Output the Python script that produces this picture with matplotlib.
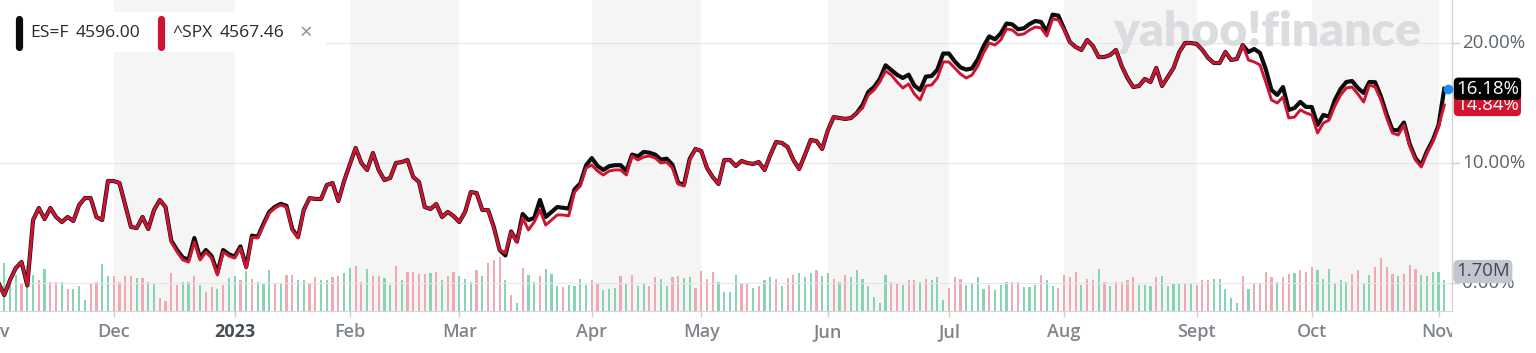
import numpy as np
import pandas as pd
import matplotlib
matplotlib.use('Agg')
import matplotlib.pyplot as plt
from matplotlib.patches import Rectangle
from matplotlib.lines import Line2D

plt.rcParams['font.family'] = ['Open Sans', 'DejaVu Sans']

# NYSE closed days inside the window
holidays = ['2022-11-24', '2022-12-26', '2023-01-02', '2023-01-16', '2023-02-20',
            '2023-04-07', '2023-05-29', '2023-06-19', '2023-07-04', '2023-09-04']

# % change since 2 Nov 2022, one value per trading day
spx_pct = [
    0.00, -1.00, 0.25, 1.25, 1.75, -0.20, 5.25, 6.25, 5.33, 6.25,
    5.50, 5.08, 5.50, 5.17, 6.50, 7.08, 7.08, 5.50, 5.25, 8.50,
    8.50, 8.33, 6.50, 4.67, 4.58, 5.50, 4.50, 6.08, 6.92, 6.33,
    3.42, 2.60, 1.92, 1.75, 3.42, 1.92, 2.58, 2.08, 0.67, 2.58,
    2.25, 2.08, 2.92, 1.25, 3.83, 3.75, 4.83, 5.83, 6.25, 6.50,
    6.33, 4.42, 3.75, 6.10, 7.08, 7.00, 7.00, 8.17, 8.33, 6.83,
    8.50, 9.90, 11.25, 10.00, 9.42, 10.83, 9.42, 8.58, 8.75, 10.00,
    10.08, 10.25, 8.83, 8.42, 6.33, 6.17, 6.58, 5.50, 5.92, 5.58,
    5.08, 5.92, 7.58, 7.50, 6.08, 6.08, 4.58, 2.75, 2.50, 4.25,
    3.42, 5.42, 4.42, 5.08, 6.08, 4.83, 5.25, 5.67, 5.67, 5.60,
    7.58, 8.08, 9.58, 9.83, 9.33, 9.00, 9.33, 9.42, 9.42, 9.00,
    10.58, 10.25, 10.50, 10.58, 10.42, 10.00, 10.08, 9.58, 8.25, 8.08,
    10.25, 11.17, 11.00, 9.58, 8.83, 8.25, 10.25, 10.25, 9.75, 10.17,
    10.00, 9.92, 10.08, 9.42, 10.67, 11.75, 11.67, 11.33, 10.25, 9.50,
    10.67, 11.92, 11.83, 11.17, 12.75, 13.83, 13.75, 13.67, 13.75, 14.17,
    14.58, 15.67, 16.08, 16.75, 17.67, 17.33, 16.75, 16.25, 16.58, 15.75,
    15.25, 16.42, 16.50, 17.08, 18.42, 18.42, 17.92, 17.42, 17.08, 17.33,
    18.08, 19.17, 20.00, 19.83, 20.25, 21.17, 21.08, 20.67, 20.75, 21.08,
    21.33, 21.25, 20.58, 22.00, 21.92, 21.08, 20.08, 19.67, 19.42, 20.25,
    19.75, 18.83, 18.83, 19.00, 19.42, 18.08, 17.08, 16.33, 16.42, 17.00,
    16.75, 17.92, 16.42, 17.17, 17.92, 19.25, 20.00, 20.00, 19.92, 19.42,
    18.75, 18.33, 18.33, 19.25, 18.58, 18.67, 19.83, 18.58, 18.42, 18.17,
    16.75, 15.25, 15.00, 15.50, 13.75, 13.83, 14.42, 14.17, 14.00, 12.50,
    13.33, 13.58, 14.75, 15.67, 16.25, 16.33, 15.75, 15.08, 16.50, 16.33,
    15.25, 13.75, 12.50, 12.33, 13.17, 11.42, 10.25, 9.67, 10.83, 11.75,
    13.00, 14.84,
]

es_pct = [
    0.00, -1.00, 0.25, 1.25, 1.75, -0.20, 5.25, 6.25, 5.33, 6.25,
    5.50, 5.08, 5.50, 5.17, 6.50, 7.08, 7.08, 5.50, 5.25, 8.50,
    8.50, 8.33, 6.50, 4.67, 4.58, 5.50, 4.50, 6.08, 6.92, 6.33,
    3.52, 2.75, 2.12, 1.95, 3.75, 2.10, 2.75, 2.25, 0.85, 2.75,
    2.40, 2.20, 3.05, 1.35, 3.95, 3.85, 4.93, 5.93, 6.35, 6.60,
    6.43, 4.50, 3.83, 6.10, 7.08, 7.00, 7.00, 8.17, 8.33, 6.83,
    8.50, 9.90, 11.25, 10.00, 9.42, 10.83, 9.42, 8.58, 8.75, 10.00,
    10.08, 10.25, 8.83, 8.42, 6.33, 6.17, 6.58, 5.50, 5.92, 5.58,
    5.08, 5.92, 7.58, 7.50, 6.08, 6.08, 4.65, 2.75, 2.30, 4.30,
    3.45, 5.75, 5.25, 5.42, 6.92, 5.50, 5.92, 6.33, 6.27, 6.20,
    7.80, 8.30, 9.80, 10.41, 9.75, 9.42, 9.73, 9.82, 9.82, 9.35,
    10.70, 10.55, 10.92, 10.86, 10.70, 10.28, 10.36, 9.86, 8.35, 8.18,
    10.35, 11.17, 11.00, 9.58, 8.83, 8.25, 10.25, 10.25, 9.75, 10.17,
    10.00, 9.92, 10.08, 9.42, 10.67, 11.75, 11.67, 11.33, 10.25, 9.50,
    10.67, 11.92, 11.83, 11.17, 12.75, 13.83, 13.75, 13.67, 13.75, 14.17,
    14.83, 15.92, 16.33, 17.00, 18.14, 17.75, 17.35, 17.08, 17.36, 16.45,
    16.08, 17.20, 17.25, 17.78, 19.12, 19.12, 18.47, 17.97, 17.78, 17.88,
    18.63, 19.72, 20.55, 20.30, 20.80, 21.62, 21.55, 21.14, 21.22, 21.58,
    21.83, 21.75, 20.94, 22.36, 22.28, 21.18, 20.08, 19.67, 19.42, 20.25,
    19.75, 18.83, 18.83, 19.00, 19.42, 18.08, 17.08, 16.33, 16.42, 17.00,
    16.75, 17.92, 16.42, 17.17, 17.92, 19.25, 20.00, 20.00, 19.92, 19.42,
    18.75, 18.33, 18.33, 19.25, 18.58, 18.67, 19.83, 19.25, 19.50, 19.17,
    17.83, 16.08, 15.67, 16.33, 14.42, 14.58, 15.09, 14.67, 14.67, 13.17,
    14.00, 13.86, 15.25, 16.17, 16.75, 16.83, 16.25, 15.83, 16.75, 16.73,
    15.55, 14.05, 12.75, 12.73, 13.37, 11.57, 10.40, 9.82, 10.98, 11.90,
    13.15, 16.18,
]

# volume in millions, and whether the bar is an up day
volume_m = [
    0.97, 2.62, 1.52, 1.98, 1.52, 2.53, 1.98, 1.67, 2.31, 1.61,
    1.61, 1.58, 1.21, 1.21, 1.34, 0.61, 1.52, 1.61, 2.59, 1.93,
    1.93, 1.61, 1.89, 1.89, 1.80, 1.80, 1.61, 1.52, 0.70, 0.57,
    2.07, 1.43, 1.61, 1.61, 1.93, 1.43, 1.06, 1.30, 1.19, 1.43,
    1.80, 1.89, 1.71, 2.16, 1.74, 1.61, 1.52, 2.22, 1.52, 1.52,
    1.98, 1.98, 1.67, 1.67, 1.52, 1.85, 1.67, 1.67, 1.85, 1.93,
    2.07, 2.35, 2.48, 1.61, 2.31, 1.93, 1.89, 1.80, 1.43, 2.48,
    1.67, 2.11, 2.11, 2.04, 2.04, 2.07, 2.11, 1.67, 1.93, 2.11,
    1.93, 1.74, 1.61, 2.22, 1.93, 2.62, 2.81, 2.95, 1.71, 0.88,
    0.46, 2.35, 1.98, 1.61, 1.93, 2.31, 2.02, 1.37, 1.30, 1.43,
    1.37, 1.74, 1.43, 1.67, 1.52, 1.15, 1.19, 1.25, 1.93, 1.52,
    1.98, 1.37, 1.52, 1.37, 1.85, 1.74, 1.37, 1.85, 1.93, 1.80,
    1.85, 1.25, 2.16, 1.74, 2.11, 1.61, 1.06, 1.06, 1.98, 1.52,
    1.52, 1.25, 1.37, 1.67, 1.85, 1.74, 1.37, 1.80, 1.98, 2.07,
    1.85, 2.07, 2.22, 1.93, 2.07, 1.74, 1.61, 1.98, 1.85, 2.22,
    1.74, 1.37, 0.79, 0.46, 1.98, 1.61, 1.52, 1.43, 1.67, 1.67,
    1.61, 1.74, 1.67, 1.85, 0.61, 1.25, 1.85, 1.74, 1.43, 1.52,
    1.85, 1.19, 1.43, 1.15, 1.43, 1.61, 1.61, 1.58, 1.30, 1.30,
    1.43, 1.98, 1.67, 1.34, 1.25, 1.98, 1.85, 2.11, 1.43, 1.74,
    1.67, 2.29, 1.61, 1.37, 1.61, 1.61, 1.67, 1.85, 1.43, 1.43,
    1.37, 1.85, 1.93, 1.37, 1.52, 1.48, 1.48, 1.52, 1.43, 1.67,
    1.67, 1.74, 1.74, 1.19, 0.70, 0.46, 1.93, 1.19, 1.52, 1.52,
    2.11, 1.85, 1.61, 1.85, 2.04, 2.07, 2.22, 2.11, 2.40, 2.22,
    1.74, 2.29, 1.52, 1.67, 1.61, 2.04, 2.22, 1.52, 1.98, 2.40,
    2.90, 2.40, 2.04, 1.93, 2.04, 2.53, 2.29, 1.98, 1.93, 2.11,
    2.11, 1.70,
]

volume_up = [
    1, 1, 1, 1, 0, 1, 1, 0, 1, 0,
    0, 1, 0, 1, 1, 1, 0, 0, 1, 1,
    0, 0, 0, 0, 1, 0, 1, 1, 0, 0,
    0, 0, 1, 1, 0, 1, 0, 0, 1, 0,
    1, 1, 0, 1, 0, 1, 1, 1, 0, 1,
    0, 0, 1, 1, 0, 0, 1, 1, 0, 0,
    1, 1, 0, 0, 1, 0, 0, 1, 1, 0,
    1, 0, 0, 0, 0, 1, 0, 1, 0, 0,
    1, 1, 1, 0, 1, 0, 0, 0, 1, 0,
    1, 0, 1, 1, 0, 1, 1, 1, 0, 1,
    1, 1, 1, 0, 0, 1, 1, 1, 0, 1,
    0, 1, 1, 0, 0, 1, 1, 0, 0, 1,
    1, 0, 0, 0, 0, 1, 1, 1, 1, 0,
    0, 1, 0, 1, 1, 0, 1, 0, 0, 1,
    1, 1, 0, 1, 1, 0, 1, 0, 1, 1,
    1, 1, 1, 1, 1, 0, 0, 1, 0, 0,
    1, 0, 1, 1, 1, 0, 0, 0, 1, 1,
    1, 1, 0, 1, 1, 1, 0, 0, 1, 1,
    1, 0, 1, 1, 0, 0, 0, 0, 1, 0,
    0, 1, 0, 1, 0, 0, 0, 0, 1, 1,
    1, 0, 1, 1, 1, 1, 0, 1, 0, 0,
    0, 1, 1, 1, 1, 1, 0, 1, 0, 0,
    0, 0, 1, 0, 0, 1, 0, 0, 0, 1,
    1, 1, 1, 1, 1, 0, 0, 1, 1, 0,
    0, 0, 0, 1, 0, 0, 0, 1, 1, 1,
    1, 1,
]

legend_names = ['ES=F', '^SPX']
legend_prices = ['4596.00', '4567.46']
pct_ticks = [0, 10, 20]

# trading-day axis; 1 Nov 2022 is position -1 so that the first month tick exists
days = pd.bdate_range('2022-11-01', '2023-11-02')
days = days[~days.isin(pd.to_datetime(holidays))]
pos_all = np.arange(len(days)) - 1
x = pos_all[1:]
firsts = pd.Series(pos_all, index=days).groupby([days.year, days.month]).first()
month_pos = list(firsts.values)
month_lab = []
for (yr, mo) in firsts.index:
    if mo == 1:
        month_lab.append(str(yr))
    elif mo == 9:
        month_lab.append('Sept')
    else:
        month_lab.append(pd.Timestamp(yr, mo, 1).strftime('%b'))

W, H = 1536, 353
def fx(px): return px / W
def fy(py): return 1 - py / H

fig = plt.figure(figsize=(W / 100, H / 100), dpi=100)
fig.patch.set_facecolor('white')

rect = [0, fy(311), fx(1452), 311 / H]
xlim = (0.26, 252.34)

# volume + month bands (bottom layer)
axv = fig.add_axes(rect)
axv.set_xlim(*xlim)
axv.set_ylim(0, 17.0)
axv.set_axis_off()
for k in range(len(month_pos) - 1):
    if k % 2 == 1:
        axv.axvspan(month_pos[k], month_pos[k + 1], color='#f5f5f5', lw=0, zorder=0)
bar_cols = ['#86d4b4' if u else '#f1a9b1' for u in volume_up]
axv.bar(x, volume_m, width=0.38, color=bar_cols, lw=0, zorder=2)
axv.axhline(0, color='#d6d6d6', lw=0.8, clip_on=False, zorder=3)

# price lines (top layer)
ax = fig.add_axes(rect, sharex=axv)
ax.set_zorder(axv.get_zorder() + 1)
ax.patch.set_visible(False)
ax.set_xlim(*xlim)
ax.set_ylim(-2.33, 23.58)
ax.set_axis_off()
for t in pct_ticks:
    ax.axhline(t, color='#e6e6e6', lw=0.8, zorder=1)
ax.plot(x, es_pct, color='#0c0c0c', lw=3.0, solid_joinstyle='round', zorder=3)
ax.plot(x, spx_pct, color='#cc1533', lw=2.1, solid_joinstyle='round', zorder=4)
ax.plot(x[-1] + 0.6, es_pct[-1], 'o', ms=7, color='#1a8cff', mec='none', clip_on=False, zorder=6)

# right axis line, ticks and labels
ax.axvline(xlim[1], color='#d6d6d6', lw=1.0, clip_on=False, zorder=2)
ytr = ax.get_yaxis_transform()
for t in pct_ticks:
    ax.plot([1.0, 1.0 + 7 / 1452], [t, t], transform=ytr, color='#cfcfcf', lw=1.0, clip_on=False)
    ax.text(1.0 + 10 / 1452, t, f'{t:.2f}%', transform=ytr, ha='left', va='center',
            fontsize=13.5, color='#5b636a', clip_on=False)

# end-value labels
ax.text(1.0 + 4 / 1452, spx_pct[-1], f'{spx_pct[-1]:.2f}%', transform=ytr, ha='left', va='center',
        fontsize=13.4, color='white', clip_on=False, zorder=7,
        bbox=dict(boxstyle='round,pad=0.12,rounding_size=0.25', fc='#d4142f', ec='none'))
ax.text(1.0 + 4 / 1452, es_pct[-1], f'{es_pct[-1]:.2f}%', transform=ytr, ha='left', va='center',
        fontsize=13.4, color='white', clip_on=False, zorder=8,
        bbox=dict(boxstyle='round,pad=0.12,rounding_size=0.25', fc='black', ec='none'))
fig.text(fx(1456), fy(271.5), f'{volume_m[-1]:.2f}M', ha='left', va='center', fontsize=13.4,
         color='#3f4853', zorder=10,
         bbox=dict(boxstyle='round,pad=0.14,rounding_size=0.25', fc='#c3c7cd', ec='none'))

# month labels strip
axl = fig.add_axes([0, 0, fx(1452), fy(311)])
axl.set_xlim(*xlim)
axl.set_ylim(0, 1)
axl.set_axis_off()
axl.vlines(month_pos, (353 - 317) / 42, 1.0, color='#cfcfcf', lw=1.0)
for p, lab in zip(month_pos, month_lab):
    bold = lab.isdigit()
    axl.text(p, (353 - 332) / 42, lab, ha='center', va='center', fontsize=13,
             fontweight='bold' if bold else 'semibold',
             color='#464e56' if bold else '#7f858b', clip_on=True)

# watermark
ax.text(fx(1113), fy(46), 'yahoo!finance', transform=fig.transFigure, ha='left', va='baseline',
        fontsize=34.7, fontweight='heavy', color='#dbdcdf', family=['Lato', 'DejaVu Sans'], zorder=2)

# legend box
fig.add_artist(Rectangle((0, fy(52)), fx(326), 40 / H, transform=fig.transFigure,
                         color='white', lw=0, zorder=5))
for xm, col in [(19, '#0c0c0c'), (161, '#cc1533')]:
    fig.add_artist(Line2D([fx(xm), fx(xm)], [fy(18.5), fy(46.5)], transform=fig.transFigure,
                          color=col, lw=5.2, solid_capstyle='round', zorder=6))
leg_x = [(30, 76), (172, 220)]
for (xn, xp), name, price in zip(leg_x, legend_names, legend_prices):
    fig.text(fx(xn), fy(33), name, ha='left', va='center', fontsize=12.6, color='#232a31', zorder=7)
    fig.text(fx(xp), fy(33), price, ha='left', va='center', fontsize=12.6, color='#232a31', zorder=7)
fig.text(fx(306), fy(33), '\u00d7', ha='center', va='center', fontsize=16, color='#8d9297', zorder=7)

fig.savefig('out.png', dpi=100, facecolor='white')
